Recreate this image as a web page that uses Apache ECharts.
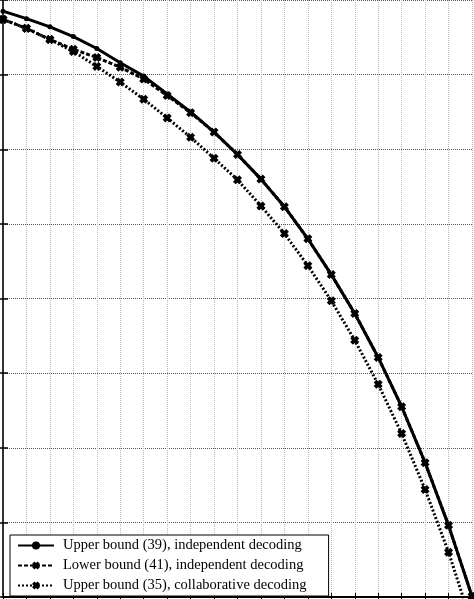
<!DOCTYPE html>
<html><head><meta charset="utf-8">
<script src="https://cdn.jsdelivr.net/npm/echarts@6/dist/echarts.min.js"></script>
<style>html,body{margin:0;padding:0;background:#fff}#c{width:474px;height:599px}</style>
</head><body><div id="c"></div>
<script>
const xValues = [0,1,2,3,4,5,6,7,8,9,10,11,12,13,14,15,16,17,18,19,20];
const upper39 = [7.85,7.75,7.64,7.51,7.35,7.16,6.98,6.74,6.50,6.23,5.93,5.60,5.23,4.80,4.32,3.80,3.21,2.55,1.80,0.96,0.01];
const lower41 = [7.74,7.62,7.47,7.34,7.23,7.10,6.94,6.72,6.49,6.23,5.93,5.60,5.23,4.80,4.32,3.80,3.21,2.55,1.80,0.96,0.01];
const upper35 = [7.74,7.62,7.47,7.31,7.11,6.90,6.67,6.42,6.16,5.88,5.59,5.24,4.87,4.44,3.97,3.44,2.85,2.19,1.44,0.60,-0.37];
const seriesNames = ['Upper bound (39), independent decoding','Lower bound (41), independent decoding','Upper bound (35), collaborative decoding'];

const pairs = ys => xValues.map((x,i)=>[x, ys[i]]);
const xMark = 'path://M0,3 L3,0 L5,2 L7,0 L10,3 L8,5 L10,7 L7,10 L5,8 L3,10 L0,7 L2,5 Z';
const chart = echarts.init(document.getElementById('c'), null, {renderer:'canvas'});
const axisCommon = {
  type:'value', axisLabel:{show:false},
  axisTick:{show:true, inside:true, length:4, lineStyle:{color:'#000', width:1}}
};
chart.setOption({
  animation:false,
  backgroundColor:'#fff',
  grid:{left:3, right:2, top:0, bottom:2, containLabel:false},
  xAxis:[
    Object.assign({}, axisCommon, {min:0, max:20, interval:1, position:'bottom',
      axisLine:{show:true, lineStyle:{color:'#000', width:2}},
      splitLine:{show:true, lineStyle:{color:'#bbb', type:'dotted', width:1}}}),
    Object.assign({}, axisCommon, {min:0, max:20, interval:1, position:'top',
      axisLine:{show:false}, splitLine:{show:false}})
  ],
  yAxis:[
    Object.assign({}, axisCommon, {min:0, max:8, interval:1, position:'left',
      axisTick:{show:true, inside:true, length:5, lineStyle:{color:'#000', width:1.5}},
      axisLine:{show:true, lineStyle:{color:'#000', width:2}},
      splitLine:{show:true, lineStyle:{color:'#555', type:'dotted', width:1}}}),
    Object.assign({}, axisCommon, {min:0, max:8, interval:1, position:'right',
      axisTick:{show:true, inside:true, length:5, lineStyle:{color:'#000', width:1.5}},
      axisLine:{show:true, lineStyle:{color:'#333', width:2}}, splitLine:{show:false}})
  ],
  legend:{
    data:seriesNames, orient:'vertical', left:10, top:535,
    backgroundColor:'#fff', borderColor:'#000', borderWidth:1, borderRadius:0,
    padding:[3,22,3,7], itemWidth:36, itemHeight:10, itemGap:5,
    textStyle:{fontFamily:'Liberation Serif', fontSize:14.5, color:'#000', padding:[0,0,0,4]}
  },
  series:[
    {name:seriesNames[0], type:'line', data:pairs(upper39), symbol:'circle', symbolSize:5,
     itemStyle:{color:'#000'}, lineStyle:{color:'#000', width:3, type:'solid'}, z:4},
    {name:seriesNames[1], type:'line', data:pairs(lower41), symbol:xMark, symbolSize:9,
     itemStyle:{color:'#000'}, lineStyle:{color:'#000', width:3, type:[4,2]}, z:3},
    {name:seriesNames[2], type:'line', data:pairs(upper35), symbol:xMark, symbolSize:9,
     itemStyle:{color:'#000'}, lineStyle:{color:'#000', width:3, type:[2,2]}, z:2, clip:true}
  ]
});
</script></body></html>
